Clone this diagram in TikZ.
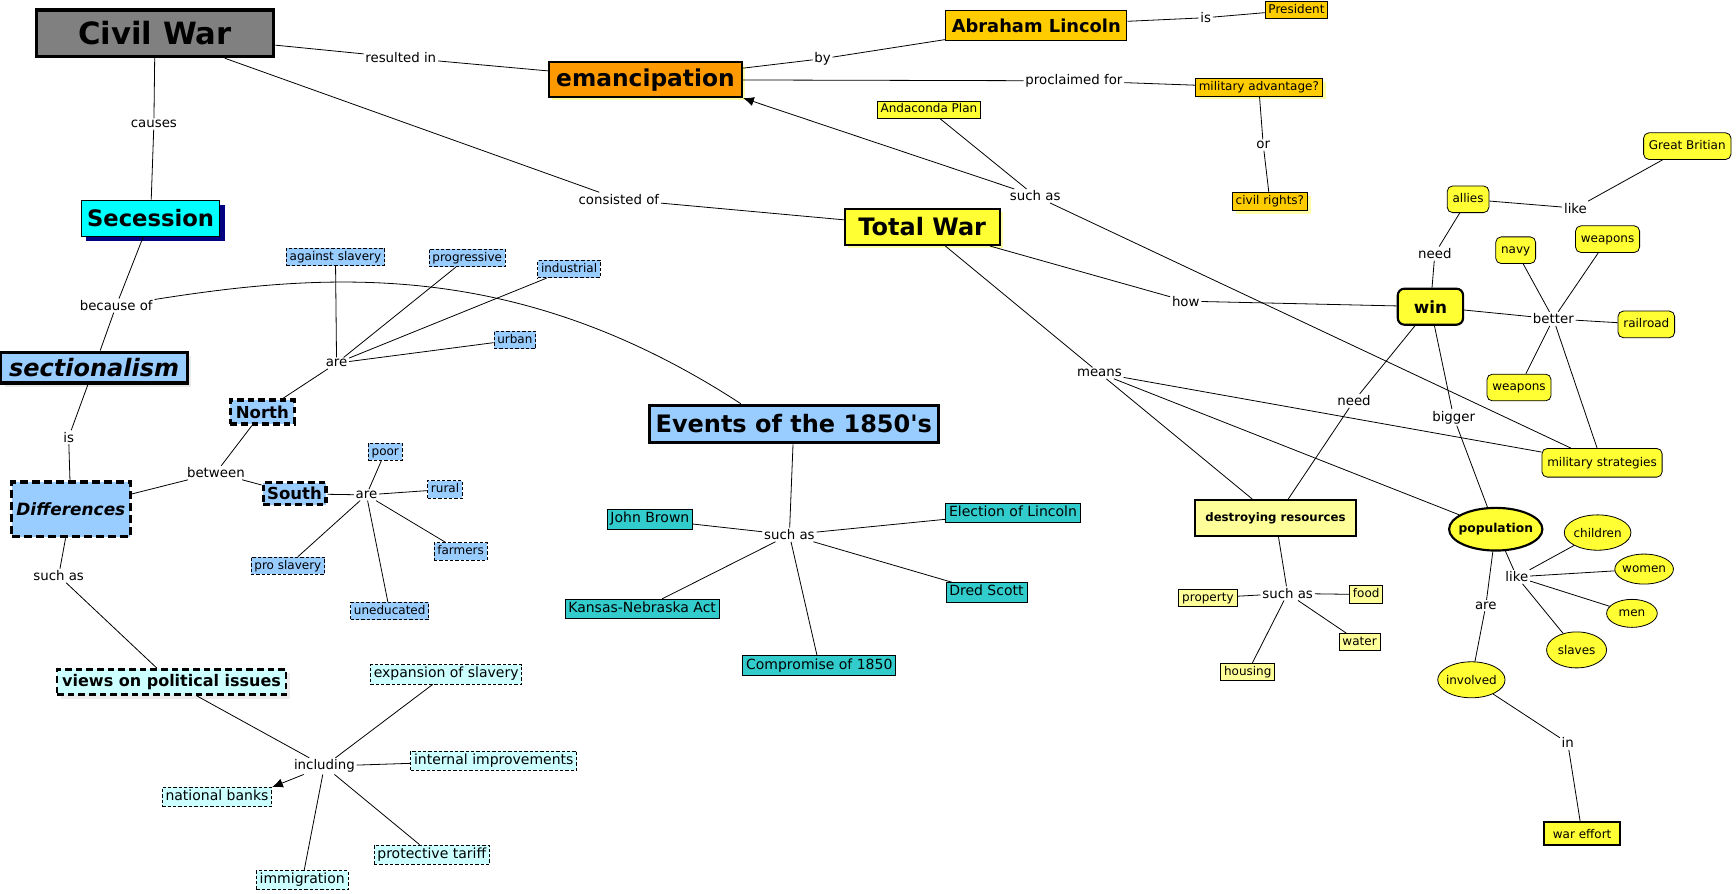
\documentclass[tikz,border=0pt]{standalone}
\usepackage{fontspec}
\setmainfont{DejaVu Sans}
\usepackage{xcolor}
\usepackage{tikz}
\usetikzlibrary{shapes.geometric,shadows,arrows.meta}
\definecolor{warGray}{HTML}{808080}
\definecolor{emancOrange}{HTML}{FF9900}
\definecolor{leaderGold}{HTML}{FFCC00}
\definecolor{secCyan}{HTML}{00FFFF}
\definecolor{secNavy}{HTML}{000080}
\definecolor{sectBlue}{HTML}{99CCFF}
\definecolor{paleCyan}{HTML}{CCFFFF}
\definecolor{eventTeal}{HTML}{33CCCC}
\definecolor{warYellow}{HTML}{FFFF33}
\definecolor{paleYellow}{HTML}{FFFF99}
\definecolor{glowYellow}{HTML}{FFFFAA}

\newcommand{\fsz}[1]{\fontsize{#1}{#1}\selectfont}

\tikzset{
  conn/.style={line width=0.6pt},
  lbl/.style={fill=white, inner sep=1.2pt, font=\fsz{10}},
  bigbox/.style={draw, inner sep=0pt, font=\bfseries},
  smallbox/.style={draw, line width=0.6pt, inner xsep=2.5pt, inner ysep=2pt,
    text height=7pt, text depth=2pt, font=\fsz{9}},
  goldtag/.style={smallbox, fill=leaderGold},
  bluetag/.style={smallbox, fill=sectBlue, dash pattern=on 2.5pt off 1.5pt},
  tealtag/.style={smallbox, fill=eventTeal, font=\fsz{10.5}, text height=8pt, text depth=2.5pt},
  cyantag/.style={smallbox, fill=paleCyan, dash pattern=on 2.5pt off 1.5pt,
    font=\fsz{10.5}, text height=8pt, text depth=2.5pt},
  yround/.style={smallbox, fill=warYellow, rounded corners=4pt, minimum height=20pt, inner xsep=4pt},
  ptag/.style={smallbox, fill=paleYellow},
  yoval/.style={draw, ellipse, fill=warYellow, line width=0.6pt, inner xsep=-8pt, inner ysep=0pt, font=\fsz{9}},
  yglow/.style={drop shadow={shadow xshift=2.5pt, shadow yshift=-2.5pt, fill=glowYellow, opacity=1}},
  greyglow/.style={drop shadow={shadow xshift=3pt, shadow yshift=-3pt, fill=black!8, opacity=1}},
}

\begin{document}
\begin{tikzpicture}[x=0.8304pt, y=-0.8304pt]
\useasboundingbox (0,0) rectangle (1568,807);

% top row
\node[bigbox, fill=warGray, line width=2.5pt, minimum width=178pt, minimum height=35pt,
  font=\bfseries\fsz{23}] (civil) at (140,30) {Civil War};
\node[bigbox, fill=emancOrange, line width=1.6pt, minimum width=145pt, minimum height=26pt,
  font=\bfseries\fsz{17.5}, yglow] (emanc) at (583,72) {emancipation};
\node[bigbox, fill=leaderGold, line width=0.8pt, minimum width=136pt, minimum height=22pt,
  font=\bfseries\fsz{13.4}] (lincoln) at (936,23) {Abraham Lincoln};
\node[goldtag] (president) at (1171,9) {President};
\node[goldtag, yglow] (miladv) at (1137,79) {military advantage?};
\node[goldtag, yglow] (civrights) at (1147,182) {civil rights?};
\node[smallbox, fill=warYellow] (anaconda) at (839,99) {Andaconda Plan};
\node[bigbox, fill=warYellow, line width=1.6pt, minimum width=116pt, minimum height=27pt,
  font=\bfseries\fsz{18}, yglow] (totalwar) at (833,205) {Total War};

\node[lbl] (resulted) at (362,52) {resulted in};
\node[lbl] (causes) at (139,112) {causes};
\node[lbl] (consisted) at (559,180) {consisted of};
\node[lbl] (by) at (743,53) {by};
\node[lbl] (is1) at (1089,16) {is};
\node[lbl] (proclaimed) at (970,73) {proclaimed for};
\node[lbl] (or) at (1141,131) {or};
\node[lbl] (suchas1) at (935,177) {such as};

% left branch
\node[bigbox, fill=secCyan, line width=0.8pt, minimum width=104pt, minimum height=27pt,
  font=\bfseries\fsz{17},
  drop shadow={shadow xshift=3.5pt, shadow yshift=-3.5pt, fill=secNavy, opacity=1}] (secession) at (136,197) {Secession};
\node[bigbox, fill=sectBlue, line width=2.5pt, minimum width=140pt, minimum height=23pt,
  font=\bfseries\itshape\fsz{18}, greyglow] (sectional) at (85,332) {sectionalism};
\node[bigbox, fill=sectBlue, line width=2.5pt, dash pattern=on 6pt off 3pt, minimum width=89pt,
  minimum height=41pt, font=\bfseries\itshape\fsz{12.7}] (diff) at (64,460) {Differences};
\node[bigbox, fill=sectBlue, line width=2.5pt, dash pattern=on 5pt off 3pt, minimum width=48pt,
  minimum height=18pt, font=\bfseries\fsz{12.4}] (north) at (237,372) {North};
\node[bigbox, fill=sectBlue, line width=2.5pt, dash pattern=on 5pt off 3pt, minimum width=47pt,
  minimum height=16.5pt, font=\bfseries\fsz{12.4}] (south) at (266,446) {South};
\node[bigbox, fill=paleCyan, line width=1.8pt, dash pattern=on 5pt off 3pt, minimum width=172pt,
  minimum height=19pt, font=\bfseries\fsz{12}, greyglow] (views) at (155,616) {views on political issues};

\node[lbl] (because) at (105,276) {because of};
\node[lbl] (is2) at (62,395) {is};
\node[lbl] (suchas2) at (53,520) {such as};
\node[lbl] (between) at (195,427) {between};
\node[lbl] (areN) at (304,328) {are};
\node[lbl] (areS) at (331,447) {are};
\node[lbl] (including) at (293,692) {including};

\node[bluetag] (against) at (303,232) {against slavery};
\node[bluetag] (progressive) at (422,233) {progressive};
\node[bluetag] (industrial) at (514,243) {industrial};
\node[bluetag] (urban) at (465,307) {urban};
\node[bluetag] (poor) at (348,408) {poor};
\node[bluetag] (rural) at (402,442) {rural};
\node[bluetag] (farmers) at (416,498) {farmers};
\node[bluetag] (proslav) at (260,511) {pro slavery};
\node[bluetag] (uneducated) at (352,552) {uneducated};

\node[cyantag] (expansion) at (403,609) {expansion of slavery};
\node[cyantag] (internal) at (446,687) {internal improvements};
\node[cyantag] (natbanks) at (196,720) {national banks};
\node[cyantag] (tariff) at (390,772) {protective tariff};
\node[cyantag] (immig) at (273,795) {immigration};

% events
\node[bigbox, fill=sectBlue, line width=2.5pt, minimum width=217pt, minimum height=28pt,
  font=\bfseries\fsz{18}] (events) at (717,383) {Events of the 1850\textquotesingle s};
\node[lbl] (suchas3) at (713,483) {such as};
\node[tealtag] (johnbrown) at (587,469) {John Brown};
\node[tealtag] (election) at (915,463) {Election of Lincoln};
\node[tealtag] (dred) at (891,535) {Dred Scott};
\node[tealtag] (kansas) at (580,550) {Kansas-Nebraska Act};
\node[tealtag] (compromise) at (740,601) {Compromise of 1850};

% right branch
\node[bigbox, fill=warYellow, line width=1.6pt, rounded corners=5pt, minimum width=49pt,
  minimum height=27pt, font=\bfseries\fsz{12.6}] (win) at (1292,277) {win};
\node[yround] (allies) at (1326,180) {allies};
\node[yround] (britain) at (1524,132) {Great Britian};
\node[yround] (navy) at (1369,226) {navy};
\node[yround] (weapons1) at (1452,216) {weapons};
\node[yround] (railroad) at (1487,293) {railroad};
\node[yround] (weapons2) at (1372,350) {weapons};
\node[yround, minimum height=21.5pt] (milstrat) at (1447,418) {military strategies};
\node[bigbox, fill=paleYellow, line width=1.6pt, minimum width=121pt, minimum height=27pt,
  font=\bfseries\fsz{8.8}] (destroy) at (1152,468) {destroying resources};
\node[yoval, line width=1.6pt, minimum width=70pt, minimum height=32pt,
  font=\bfseries\fsz{9.2}] (population) at (1351,478) {population};
\node[ptag] (property) at (1091,540) {property};
\node[ptag] (food) at (1234,537) {food};
\node[ptag] (water) at (1228,580) {water};
\node[ptag] (housing) at (1127,607) {housing};
\node[yoval, minimum width=50pt, minimum height=26.5pt] (children) at (1443,481) {children};
\node[yoval, minimum width=44pt, minimum height=22.5pt] (women) at (1485,514) {women};
\node[yoval, minimum width=38pt, minimum height=21pt] (men) at (1474,554) {men};
\node[yoval, minimum width=45pt, minimum height=27pt] (slaves) at (1424,587) {slaves};
\node[yoval, minimum width=50.5pt, minimum height=27pt] (involved) at (1329,614) {involved};
\node[bigbox, fill=warYellow, line width=1.6pt, minimum width=57pt, minimum height=17pt,
  font=\fsz{9}] (wareffort) at (1429,753) {war effort};

\node[lbl] (how) at (1071,272) {how};
\node[lbl] (need1) at (1296,229) {need};
\node[lbl] (like1) at (1423,188) {like};
\node[lbl] (better) at (1403,288) {better};
\node[lbl] (means) at (993,337) {means};
\node[lbl] (need2) at (1223,362) {need};
\node[lbl] (bigger) at (1313,377) {bigger};
\node[lbl] (suchas4) at (1163,536) {such as};
\node[lbl] (like2) at (1370,521) {like};
\node[lbl] (are3) at (1342,547) {are};
\node[lbl] (in) at (1416,671) {in};

% links
\draw[conn] (civil) -- (resulted) -- (emanc);
\draw[conn] (civil) -- (causes) -- (secession);
\draw[conn] (civil) -- (consisted) -- (totalwar);
\draw[conn] (emanc) -- (by) -- (lincoln) -- (is1) -- (president);
\draw[conn] (emanc) -- (proclaimed) -- (miladv) -- (or) -- (civrights);
\draw[conn] (anaconda) -- (suchas1) -- (milstrat);
\draw[conn, -{Latex[length=8pt,width=7pt]}] (suchas1) -- (emanc.south east);

\draw[conn] (secession) -- (because) -- (sectional) -- (is2) -- (diff);
\draw[conn] (because) .. controls (300,245) and (470,235) .. (events.159);
\draw[conn] (diff) -- (between) -- (north) -- (areN);
\foreach \t in {against,progressive,industrial,urban}
  \draw[conn] (areN) -- (\t);
\draw[conn] (between) -- (south) -- (areS);
\foreach \t in {poor,rural,farmers,proslav,uneducated}
  \draw[conn] (areS) -- (\t);
\draw[conn] (diff) -- (suchas2) -- (views) -- (including);
\foreach \t in {expansion,internal,tariff,immig}
  \draw[conn] (including) -- (\t);
\draw[conn, -{Latex[length=8pt,width=7pt]}] (including) -- (natbanks.north east);

\draw[conn] (events) -- (suchas3);
\foreach \t in {johnbrown,election,dred,kansas,compromise}
  \draw[conn] (suchas3) -- (\t);

\draw[conn] (totalwar) -- (how) -- (win);
\draw[conn] (totalwar) -- (means);
\foreach \t in {destroy,population,milstrat}
  \draw[conn] (means) -- (\t);
\draw[conn] (win) -- (need1) -- (allies) -- (like1) -- (britain);
\draw[conn] (win) -- (better);
\foreach \t in {navy,weapons1,railroad,weapons2,milstrat}
  \draw[conn] (better) -- (\t);
\draw[conn] (win) -- (need2) -- (destroy) -- (suchas4);
\foreach \t in {property,food,water,housing}
  \draw[conn] (suchas4) -- (\t);
\draw[conn] (win) -- (bigger) -- (population) -- (like2);
\foreach \t in {children,women,men,slaves}
  \draw[conn] (like2) -- (\t);
\draw[conn] (population) -- (are3) -- (involved) -- (in) -- (wareffort);
\end{tikzpicture}
\end{document}
